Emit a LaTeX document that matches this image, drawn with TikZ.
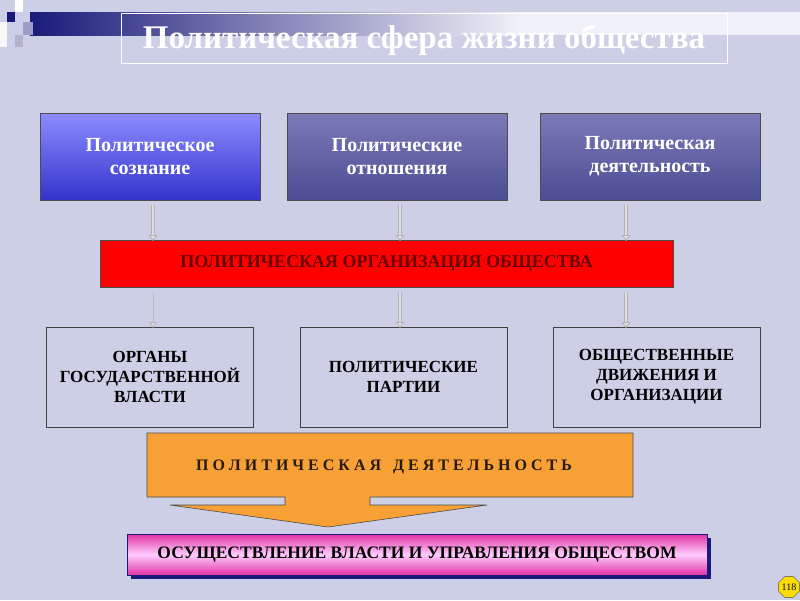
\documentclass[tikz,border=0pt]{standalone}
\usepackage{fontspec}
\setmainfont{Liberation Serif}
\usetikzlibrary{shapes.geometric,arrows.meta}
\definecolor{bg}{HTML}{CDCFE6}
\definecolor{navy}{HTML}{1A1A7A}
\definecolor{orng}{HTML}{F7A035}
\tikzset{
  topbox/.style={draw=black!70,line width=0.8pt,minimum width=220pt,minimum height=87pt,align=center,text=white,font=\bfseries\fontsize{20}{23}\selectfont},
  midbox/.style={draw=black!75,line width=0.6pt,minimum width=207pt,minimum height=100pt,align=center,font=\bfseries\fontsize{17}{20}\selectfont},
  dbl/.style={draw=gray!60,double=gray!25,double distance=2.2pt,line width=0.9pt,-{Triangle[length=6pt,width=9pt,fill=gray!25]}},
}
\begin{document}
\begin{tikzpicture}[x=1pt,y=-1pt]
\useasboundingbox (0,0) rectangle (800,600);
\fill[bg] (0,0) rectangle (800,600);
% decoration
\shade[left color=navy,right color=white!70!bg] (30,12) rectangle (520,35);
\fill[white!70!bg] (520,12) rectangle (800,35);
\fill[navy] (7,12) rectangle (15,22);
\fill[white] (15,0) rectangle (23,12);
\fill[blue!30!gray!60] (23,22) rectangle (33,35);
\fill[blue!20!gray!50] (15,35) rectangle (23,47);
\fill[white!85!bg] (0,22) rectangle (7,47);
% title
\draw[white,line width=0.8pt] (121,13) rectangle (727,63);
\node (title) at (424,40) {\textcolor{white}{\bfseries\fontsize{33}{36}\selectfont Политическая сфера жизни общества}};
% top boxes
\node[topbox,top color=blue!45!white,bottom color=blue!60!gray] (b1) at (150,156.5) {Политическое\\сознание};
\node[topbox,top color=blue!30!gray!80,bottom color=blue!40!black!70] (b2) at (397,156.5) {Политические\\отношения};
\node[topbox,top color=blue!30!gray!80,bottom color=blue!40!black!70] (b3) at (650,156.5) {Политическая\\деятельность};
% red bar
\node[draw=black!70,fill=red,minimum width=573pt,minimum height=47pt,font=\bfseries\fontsize{18}{20}\selectfont,text=red!40!black] (org) at (386.5,263.5) {ПОЛИТИЧЕСКАЯ ОРГАНИЗАЦИЯ ОБЩЕСТВА};
% middle boxes
\node[midbox] (m1) at (150,377) {ОРГАНЫ\\ГОСУДАРСТВЕННОЙ\\ВЛАСТИ};
\node[midbox] (m2) at (403.5,377) {ПОЛИТИЧЕСКИЕ\\ПАРТИИ};
\node[midbox] (m3) at (656.5,377) {ОБЩЕСТВЕННЫЕ\\ДВИЖЕНИЯ И\\ОРГАНИЗАЦИИ};
% arrows
\coordinate (a1) at (153,205); \coordinate (a1e) at (153,241);
\coordinate (a2) at (400,205); \coordinate (a2e) at (400,241);
\coordinate (a3) at (626,205); \coordinate (a3e) at (626,241);
\draw[dbl] (a1) -- (a1e);
\draw[dbl] (a2) -- (a2e);
\draw[dbl] (a3) -- (a3e);
\coordinate (c1) at (153,293); \coordinate (c1e) at (153,328);
\coordinate (c2) at (400,293); \coordinate (c2e) at (400,328);
\coordinate (c3) at (626,293); \coordinate (c3e) at (626,328);
\draw[gray!55,line width=1pt,-{Triangle[length=6pt,width=8pt,fill=gray!25]}] (c1) -- (c1e);
\draw[dbl] (c2) -- (c2e);
\draw[dbl] (c3) -- (c3e);
% orange arrow
\draw[black!70,fill=orng,line width=0.6pt] (147,433) -- (633,433) -- (633,497) -- (370,497) -- (370,505) -- (487,505) -- (328,527) -- (170,505) -- (285,505) -- (285,497) -- (147,497) -- cycle;
\node[font=\bfseries\fontsize{16}{18}\selectfont,text=black!80!brown] (pd) at (384,467) {П О Л И Т И Ч Е С К А Я \ \ Д Е Я Т Е Л Ь Н О С Т Ь};
% purple bar
\fill[navy] (131,538) rectangle (711,579);
\node[draw=navy,line width=0.6pt,top color=purple!60!magenta!80!white,bottom color=purple!60!magenta!80!white,middle color=magenta!20!white,minimum width=580pt,minimum height=41pt,font=\bfseries\fontsize{17.5}{19}\selectfont] (pb) at (417,554.5) {ОСУЩЕСТВЛЕНИЕ ВЛАСТИ И УПРАВЛЕНИЯ ОБЩЕСТВОМ};
% badge
\node[regular polygon,regular polygon sides=8,draw=black!70,fill=yellow!80!orange,minimum size=22pt,inner sep=0pt,font=\fontsize{10}{11}\selectfont] (pg) at (789,587) {118};
\end{tikzpicture}
\end{document}
